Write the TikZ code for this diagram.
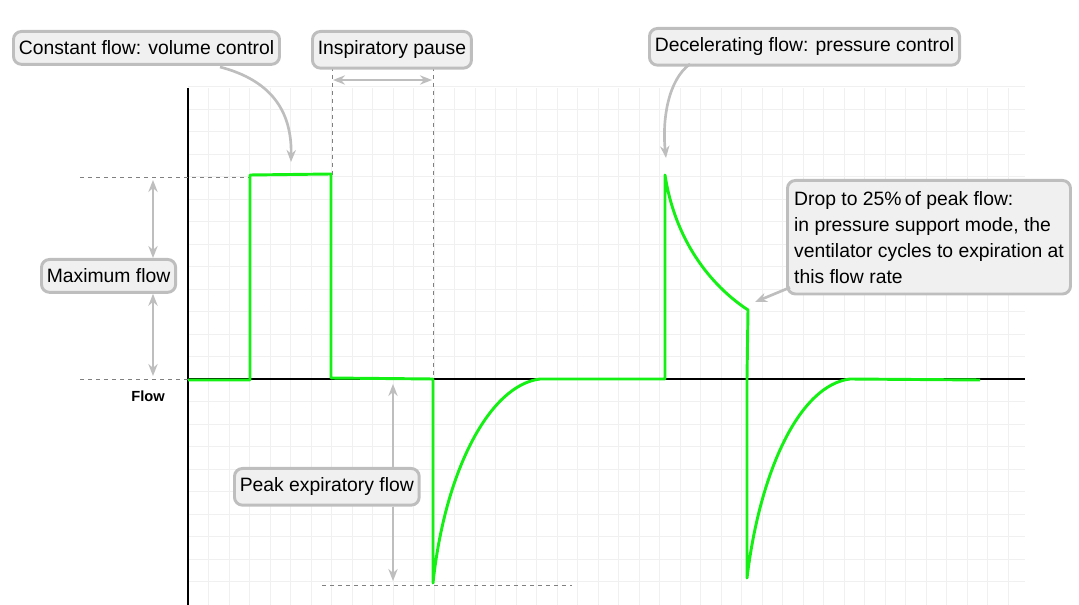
\documentclass[tikz,border=0pt]{standalone}
\usepackage{fontspec}
\setmainfont{Liberation Sans}
\usetikzlibrary{arrows.meta}
\definecolor{boxgray}{RGB}{190,190,190}
\definecolor{boxfill}{RGB}{240,240,240}
\definecolor{flowgreen}{RGB}{20,240,20}
\tikzset{
  labelbox/.style={draw=boxgray,line width=2.2pt,fill=boxfill,rounded corners=6pt,inner xsep=4pt,inner ysep=7pt,anchor=north west,font=\fontsize{14.5}{18}\selectfont,align=left},
  guide/.style={gray,dashed,line width=0.5pt},
  pointer/.style={boxgray,line width=2pt,-{Stealth[length=9pt,width=7pt]}},
  span/.style={boxgray,line width=2pt,{Stealth[length=9pt,width=7pt]}-{Stealth[length=9pt,width=7pt]}},
}
\begin{document}
\begin{tikzpicture}[x=0.75pt,y=0.75pt,yscale=-1,xscale=1]
\useasboundingbox (0,0) rectangle (1079,605);

%Grid
\foreach \i in {0,...,40} \draw [black!6] (188+20.5*\i,88) -- (188+20.5*\i,605);
\foreach \j in {-13,...,9} \draw [black!6] (188,379+22.5*\j) -- (1025,379+22.5*\j);

%Axes
\draw [line width=1.2pt] (188,88) -- (188,605);
\draw [line width=1.2pt] (188,379) -- (1025,379);

%Guides
\draw [guide] (80,177) -- (250,177);
\draw [guide] (80,379) -- (188,379);
\draw [guide] (322,585) -- (572,585);
\draw [guide] (332,67) -- (332,175);
\draw [guide] (433,67) -- (433,379);

%Flow curve
\draw [flowgreen,line width=2.2pt,line join=round] (188,380) -- (250,380) -- (250,175) -- (331,174) -- (331,378) -- (433,379) -- (433,583)
  .. controls (445,470) and (490,385) .. (540,379) -- (665,379) -- (665,175)
  .. controls (675,240) and (710,285) .. (748,310) -- (747,379) -- (747,578)
  .. controls (760,470) and (800,385) .. (850,379) -- (980,380);

% Text Node
\node [labelbox] (cst) at (12,30) {Constant flow: volume control};
\node [labelbox] (pause) at (311,30) {Inspiratory pause};
\node [labelbox] (dec) at (648,27) {Decelerating flow: pressure control};
\node [labelbox] (maxf) at (40,258) {Maximum flow};
\node [labelbox] (peak) at (233,467) {Peak expiratory flow};
\node [labelbox,inner xsep=5pt,inner ysep=8pt,font=\fontsize{14.5}{19.5}\selectfont] (drop) at (786,179) {Drop to 25\%\,of peak flow:\\in pressure support mode, the\\ventilator cycles to expiration at\\this flow rate};
\node [font=\bfseries\fontsize{11}{13}\selectfont] (flow) at (148,396) {Flow};

%Arrows
\coordinate (maxtop) at (153,180);
\coordinate (maxbot) at (153,376);
\draw [span] (maxtop) -- (maxf.north -| maxtop);
\draw [span] (maxbot) -- (maxf.south -| maxbot);
\coordinate (peaktop) at (393,384);
\coordinate (peakbot) at (393,581);
\draw [boxgray,line width=2pt,-{Stealth[length=9pt,width=7pt]}] (peak.north -| peaktop) -- (peaktop);
\draw [boxgray,line width=2pt,-{Stealth[length=9pt,width=7pt]}] (peak.south -| peakbot) -- (peakbot);
\coordinate (pl) at (333,80);
\coordinate (pr) at (432,80);
\draw [span] (pl) -- (pr);
\coordinate (sq) at (291,162);
\draw [pointer] (220,67) .. controls (270,80) and (292,110) .. (sq);
\coordinate (dpk) at (666,158);
\draw [pointer] (690,64) .. controls (668,80) and (662,120) .. (dpk);
\coordinate (dtip) at (755,302);
\draw [pointer] (drop.south west) ++(4,-8) -- (dtip);
\end{tikzpicture}
\end{document}
